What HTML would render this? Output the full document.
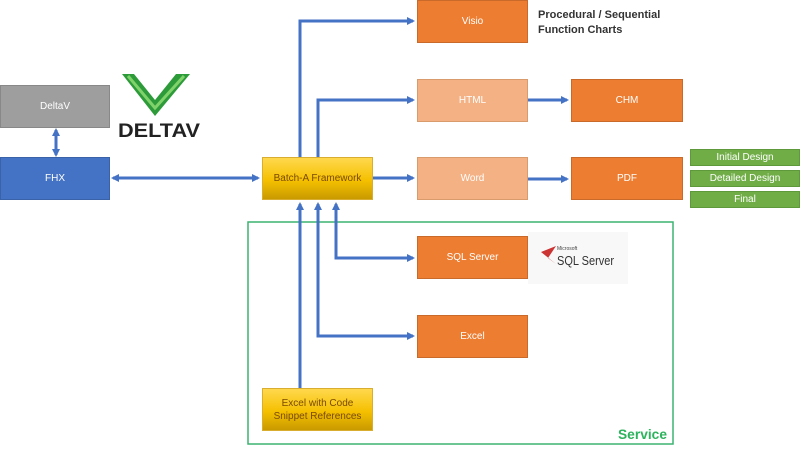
<!DOCTYPE html>
<html><head><meta charset="utf-8"><style>
body{margin:0;background:#fff;width:800px;height:452px;overflow:hidden;position:relative;font-family:"Liberation Sans",sans-serif}
.b{position:absolute;display:flex;align-items:center;justify-content:center;text-align:center;font-size:10px;color:#fff;box-sizing:border-box}
.o{background:#ed7d31;border:1px solid #c9692a}
.l{background:#f4b183;border:1px solid #d99a6c}
.y{background:linear-gradient(#ffd84d,#f5c000 55%,#c99a00);color:#7a4a00;border:1px solid #d9ad30}
.g{background:#70ad47;border:1px solid #5e9a3b;font-size:10px}
</style></head><body>
<svg width="800" height="452" style="position:absolute;left:0;top:0">
<defs><marker id="a" markerWidth="8" markerHeight="8" refX="6" refY="4" orient="auto-start-reverse" markerUnits="userSpaceOnUse"><path d="M0,0 L8,4 L0,8 z" fill="#4472c4"/></marker></defs>
<rect x="248" y="222" width="425" height="222" fill="none" stroke="#3cb371" stroke-width="1.5"/>
<rect x="528" y="232" width="100" height="52" fill="#f8f8f8"/>
<g stroke="#4472c4" stroke-width="3" fill="none">
<path d="M56 130 V155" marker-start="url(#a)" marker-end="url(#a)"/>
<path d="M113 178 H258" marker-start="url(#a)" marker-end="url(#a)"/>
<path d="M300 157 V21 H413" marker-end="url(#a)"/>
<path d="M318 157 V100 H413" marker-end="url(#a)"/>
<path d="M373 178 H413" marker-end="url(#a)"/>
<path d="M528 100 H567" marker-end="url(#a)"/>
<path d="M528 179 H567" marker-end="url(#a)"/>
<path d="M300 388 V204" marker-end="url(#a)"/>
<path d="M413 336 H318 V204" marker-start="url(#a)" marker-end="url(#a)"/>
<path d="M413 258 H336 V204" marker-start="url(#a)" marker-end="url(#a)"/>
</g>
<path d="M122 74 L134 74 L155 100 L176 74 L190 74 L155 116 Z" fill="#2e9b3a"/>
<path d="M128 76 L155 108 L184 76" fill="none" stroke="#7fd36a" stroke-width="3"/>
<text x="118" y="137" font-family="Liberation Sans" font-weight="bold" font-size="19" textLength="82" lengthAdjust="spacingAndGlyphs" fill="#222">DELTAV</text>
<path d="M541 252 L556 246 L548 258 L556 264 Z" fill="#c33"/>
<text x="557" y="250" font-size="5" fill="#444">Microsoft</text>
<text x="557" y="265" font-size="13" textLength="57" lengthAdjust="spacingAndGlyphs" fill="#333">SQL Server</text>
<text x="618" y="439" font-size="14" font-weight="bold" fill="#2db35d" font-family="Liberation Sans" textLength="49" lengthAdjust="spacingAndGlyphs">Service</text>
<text x="538" y="18" font-size="11" font-weight="bold" fill="#333">Procedural / Sequential</text>
<text x="538" y="33" font-size="11" font-weight="bold" fill="#333">Function Charts</text>
</svg>
<div class="b" style="left:0;top:85px;width:110px;height:43px;background:#9e9e9e;border:1px solid #888">DeltaV</div>
<div class="b" style="left:0;top:157px;width:110px;height:43px;background:#4472c4;border:1px solid #3a62a8">FHX</div>
<div class="b y" style="left:262px;top:157px;width:111px;height:43px">Batch-A Framework</div>
<div class="b o" style="left:417px;top:0;width:111px;height:43px">Visio</div>
<div class="b l" style="left:417px;top:79px;width:111px;height:43px">HTML</div>
<div class="b o" style="left:571px;top:79px;width:112px;height:43px">CHM</div>
<div class="b l" style="left:417px;top:157px;width:111px;height:43px">Word</div>
<div class="b o" style="left:571px;top:157px;width:112px;height:43px">PDF</div>
<div class="b g" style="left:690px;top:149px;width:110px;height:17px">Initial Design</div>
<div class="b g" style="left:690px;top:170px;width:110px;height:17px">Detailed Design</div>
<div class="b g" style="left:690px;top:191px;width:110px;height:17px">Final</div>
<div class="b o" style="left:417px;top:236px;width:111px;height:43px">SQL Server</div>
<div class="b o" style="left:417px;top:315px;width:111px;height:43px">Excel</div>
<div class="b y" style="left:262px;top:388px;width:111px;height:43px;line-height:13px">Excel with Code<br>Snippet References</div>
</body></html>
